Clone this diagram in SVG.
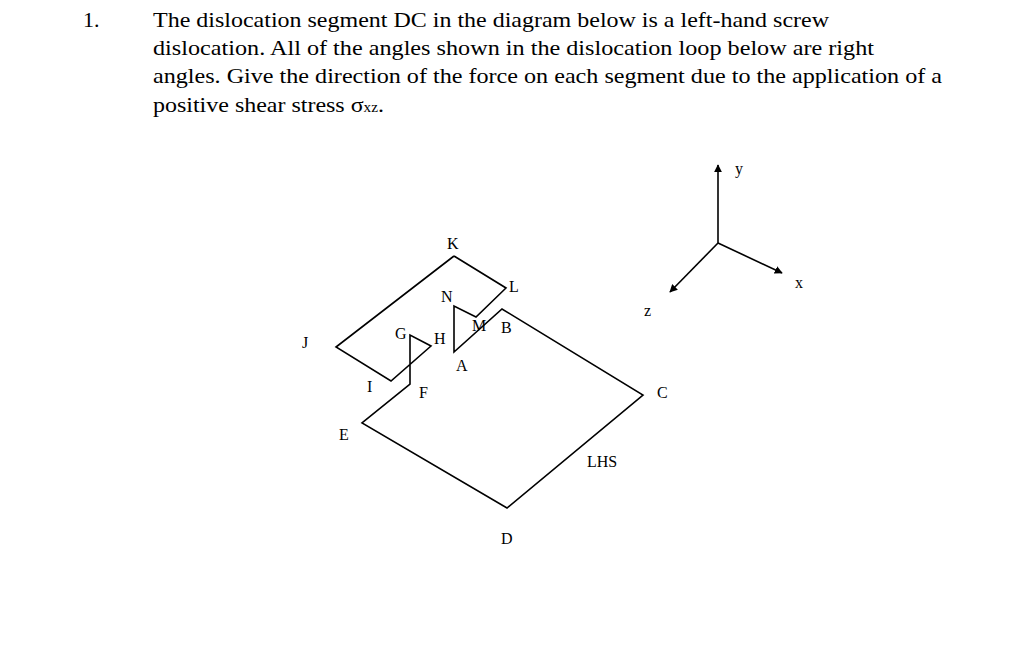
<svg xmlns="http://www.w3.org/2000/svg" width="1024" height="661" viewBox="0 0 1024 661">
<style>text{font-family:"Liberation Serif",serif;fill:#000}.t{font-size:22px}.l{font-size:16px}.c{stroke:#000;stroke-width:1.6;fill:none}</style>
<defs><marker id="a" viewBox="0 0 10 10" refX="9" refY="5" markerWidth="5" markerHeight="5" orient="auto"><path d="M0,0L10,5L0,10z" fill="#000"/></marker></defs>
<rect width="1024" height="661" fill="#fff"/>
<g id="question" class="t">
<text x="83" y="27">1.</text>
<text x="153" y="27" textLength="676" lengthAdjust="spacingAndGlyphs">The dislocation segment DC in the diagram below is a left-hand screw</text>
<text x="153" y="55" textLength="721" lengthAdjust="spacingAndGlyphs">dislocation.  All of the angles shown in the dislocation loop below are right</text>
<text x="153" y="83" textLength="789" lengthAdjust="spacingAndGlyphs">angles.  Give the direction of the force on each segment due to the application of a</text>
<text x="153" y="112" textLength="231" lengthAdjust="spacingAndGlyphs">positive shear stress σ<tspan font-size="14">xz</tspan>.</text>
</g>
<g id="connectors" class="c">
<polyline points="454,256 506,288 476,317 454,306 454,352 502,309 643,395 507,508 362,423 410,384 410,335 431,346 391,381 336,347 454,256"/>
</g>
<g id="axes" class="c">
<line x1="718" y1="243" x2="718" y2="165" marker-end="url(#a)"/>
<line x1="718" y1="243" x2="782" y2="273" marker-end="url(#a)"/>
<line x1="718" y1="243" x2="670" y2="292" marker-end="url(#a)"/>
</g>
<g id="labels" class="l">
<text x="447" y="249">K</text><text x="509" y="292">L</text><text x="441" y="302">N</text>
<text x="472" y="331">M</text><text x="501" y="333">B</text><text x="395" y="339">G</text>
<text x="434" y="344">H</text><text x="456" y="371">A</text><text x="302" y="348">J</text>
<text x="367" y="392">I</text><text x="419" y="398">F</text><text x="657" y="398">C</text>
<text x="339" y="440">E</text><text x="587" y="467">LHS</text><text x="501" y="544">D</text>
<text x="735" y="174">y</text><text x="795" y="288">x</text><text x="644" y="316">z</text>
</g>
</svg>
